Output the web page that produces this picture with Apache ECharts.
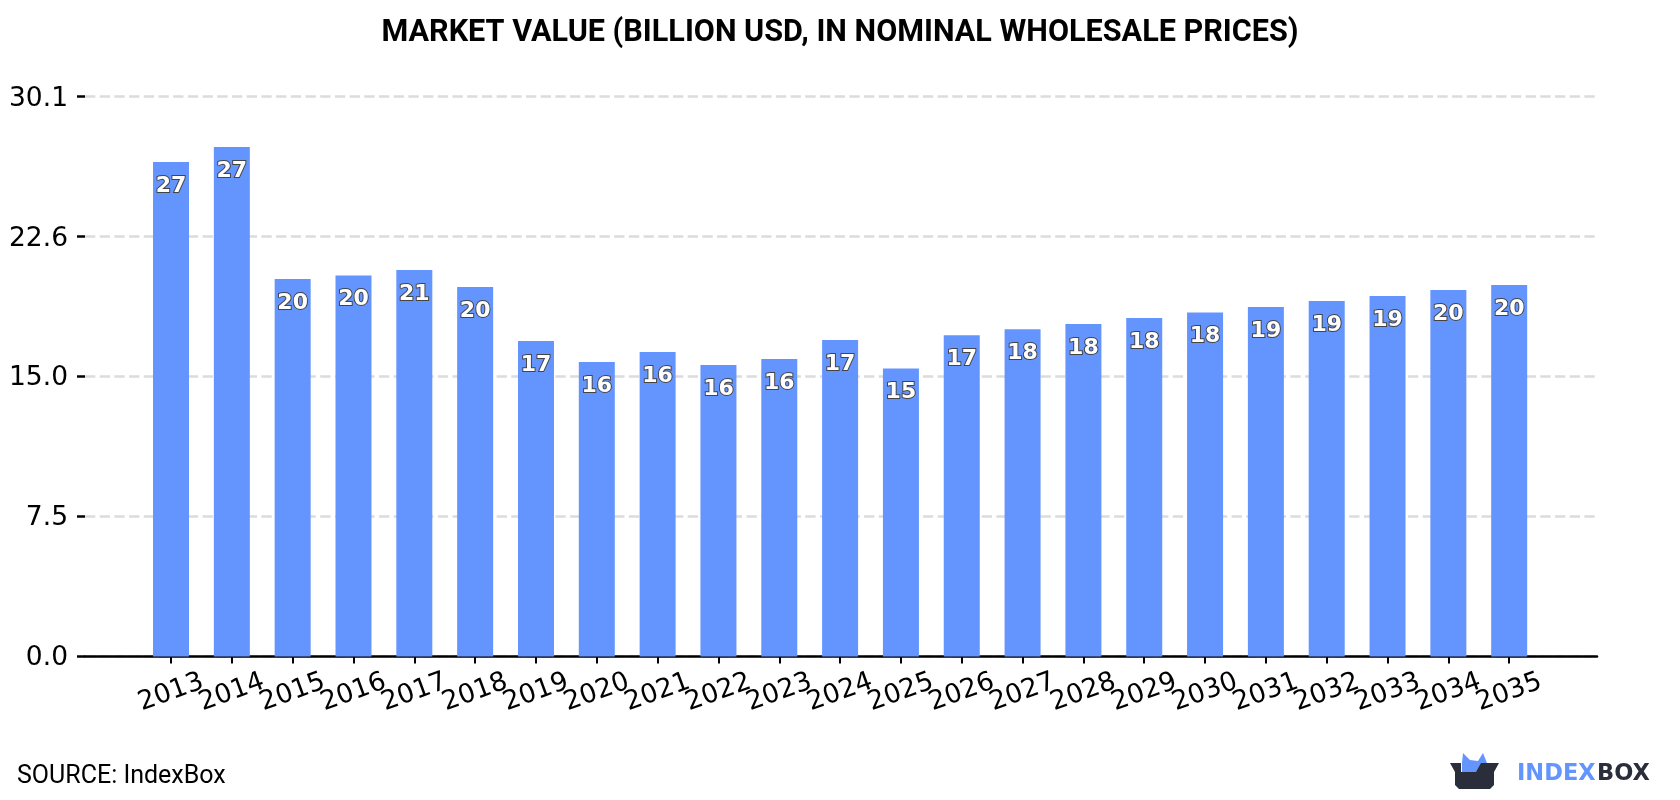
<!DOCTYPE html>
<html>
<head>
<meta charset="utf-8">
<style>html,body{margin:0;padding:0;background:#fff}#chart{width:1680px;height:800px}</style>
<script src="https://cdn.jsdelivr.net/npm/echarts@6/dist/echarts.min.js"></script>
</head>
<body>
<div id="chart"></div>
<script>
const years = ['2013','2014','2015','2016','2017','2018','2019','2020','2021','2022','2023','2024','2025','2026','2027','2028','2029','2030','2031','2032','2033','2034','2035'];
const marketValue = [26.59,27.39,20.3,20.49,20.78,19.87,16.96,15.83,16.37,15.67,15.99,17.02,15.49,17.28,17.6,17.88,18.2,18.49,18.79,19.11,19.38,19.7,19.97];
const valueTicks = [0,7.525,15.05,22.575,30.1];
const valueTickLabels = ['0.0','7.5','15.0','22.6','30.1'];
const titleText = 'MARKET VALUE (BILLION USD, IN NOMINAL WHOLESALE PRICES)';
const sourceText = 'SOURCE: IndexBox';

const chart = echarts.init(document.getElementById('chart'), null, {renderer:'canvas'});
chart.setOption({
  animation:false,
  backgroundColor:'#fff',
  title:{text:titleText,left:'center',top:13,textStyle:{fontFamily:'Roboto',fontWeight:'bold',fontSize:30.6,color:'#000'}},
  // Grid 0 holds the bars and years; grid 1 is wider and carries the value scale and baseline.
  grid:[
    {left:140.6,right:140.4,top:96.7,bottom:143.5},
    {left:85,right:83,top:96.7,bottom:143.5}
  ],
  xAxis:[
    {
      type:'category',gridIndex:0,data:years,boundaryGap:true,
      axisLine:{show:false},
      splitLine:{show:false},
      axisTick:{show:true,alignWithLabel:true,interval:0,length:7,lineStyle:{color:'#000',width:2}},
      axisLabel:{show:true,interval:0,rotate:20,margin:36,align:'center',verticalAlign:'middle',
        hideOverlap:false,fontFamily:'DejaVu Sans',fontSize:26.5,color:'#000'}
    },
    {
      type:'value',gridIndex:1,min:0,max:1,
      splitLine:{show:false},axisTick:{show:false},axisLabel:{show:false},
      axisLine:{show:true,lineStyle:{color:'#000',width:2.5}}
    }
  ],
  yAxis:[
    {type:'value',gridIndex:0,min:0,max:30.1,show:false,splitLine:{show:false}},
    {
      type:'value',gridIndex:1,min:0,max:30.1,
      axisLine:{show:false},
      axisTick:{show:true,customValues:valueTicks,length:8,lineStyle:{color:'#000',width:2.5}},
      // Top alignment with a negative pad sets the labels a touch below their ticks.
      axisLabel:{show:true,customValues:valueTicks,margin:17,verticalAlign:'top',lineHeight:30,padding:[-13,0,0,0],
        fontFamily:'DejaVu Sans',fontSize:26.5,color:'#000',
        formatter:v=>valueTickLabels[valueTicks.findIndex(t=>Math.abs(t-v)<1e-6)]},
      splitLine:{show:true,lineStyle:{color:'#dcdcdc',width:2.5,type:[10.3,4.4]}}
    }
  ],
  series:[{
    type:'bar',
    xAxisIndex:0,yAxisIndex:0,
    barWidth:36,
    data:marketValue,
    itemStyle:{color:'#6495ff'},
    label:{show:true,position:'insideTop',distance:13,fontFamily:'DejaVu Sans',fontWeight:'bold',fontSize:22,color:'#fff',
      textBorderColor:'#444',textBorderWidth:2,
      formatter:p=>String(Math.round(p.value))}
  }],
  graphic:[
    {type:'text',left:17,top:764,style:{text:sourceText,fontFamily:'Roboto',fontSize:25,fill:'#000'}},
    {type:'polygon',shape:{points:[[1462,772],[1462,763],[1463,753],[1470,760],[1478,761],[1483,753],[1487,763],[1481,766],[1476,773]]},style:{fill:'#6495ff'}},
    {type:'polygon',shape:{points:[[1450,763],[1461,763],[1461,772],[1476,772],[1481,763],[1499,763],[1494,772],[1494,785],[1490,789],[1459,789],[1455,785],[1455,772]]},style:{fill:'#2a2d3a'}},
    {type:'text',left:1517,top:763,style:{text:'INDEX',fontFamily:'DejaVu Sans',fontWeight:'bold',fontSize:22.5,fill:'#6495ff'}},
    {type:'text',left:1597,top:763,style:{text:'BOX',fontFamily:'DejaVu Sans',fontWeight:'bold',fontSize:22.5,fill:'#2a2d3a'}}
  ]
});
</script>
</body>
</html>
